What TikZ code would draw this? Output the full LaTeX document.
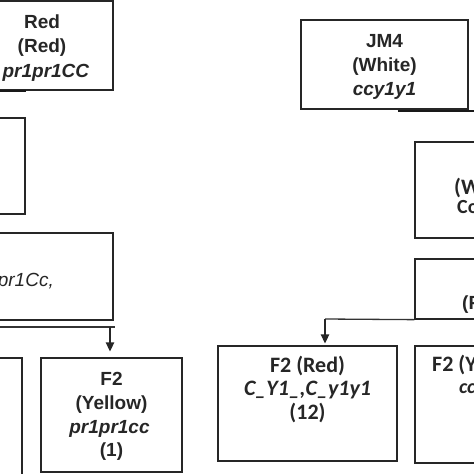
\documentclass[tikz,border=0pt]{standalone}
\usepackage{fontspec}
\setmainfont{Liberation Sans}
\newfontfamily\calfont{Carlito}
\usetikzlibrary{arrows.meta}
\begin{document}
\begin{tikzpicture}[x=1pt,y=-1pt,
  box/.style={draw=black!85, line width=1.3pt, rectangle, inner sep=0pt},
  conn/.style={draw=black!80, line width=1.3pt},
  thick conn/.style={draw=black!90, line width=2pt},
  arrowc/.style={draw=black!85, line width=1.3pt, -{Triangle[length=9pt,width=8.5pt]}},
  ariallbl/.style={align=center, inner sep=0pt, text=black!85, font=\bfseries\fontsize{19}{24.3}\selectfont},
  callbl/.style={align=center, inner sep=0pt, text=black!85, font=\calfont\bfseries\fontsize{22}{23.5}\selectfont},
  frag/.style={anchor=west, inner sep=0pt, text=black!85}
]
\useasboundingbox (0,0) rectangle (474,474);
\clip (0,0) rectangle (474,474);
\fill[white] (0,0) rectangle (474,474);

% boxes
\node[box, minimum width=142pt, minimum height=89pt] (A) at (42,45.5) {};
\node[box, minimum width=125pt, minimum height=96pt] (B) at (-37.5,166) {};
\node[box, minimum width=213pt, minimum height=87pt] (C) at (6.5,276.5) {};
\node[box, minimum width=122pt, minimum height=122pt] (D) at (-39,419) {};
\node[box, minimum width=141pt, minimum height=114pt] (E) at (111.5,415) {};
\node[box, minimum width=179pt, minimum height=115pt] (F) at (307.5,403.5) {};
\node[box, minimum width=145pt, minimum height=60pt] (G) at (487.5,289) {};
\node[box, minimum width=145pt, minimum height=117pt] (H) at (487.5,404.5) {};
\node[box, minimum width=167pt, minimum height=89pt] (I) at (384.5,64.5) {};
\node[box, minimum width=145pt, minimum height=96pt] (J) at (487.5,190) {};

% texts
\node[ariallbl] (At) at (42,48) {Red\\(Red)\\\hspace*{8pt}\textit{pr1pr1CC}};
\node[ariallbl] (It) at (384.5,67) {JM4\\(White)\\\textit{ccy1y1}};
\node[ariallbl, font=\bfseries\fontsize{19}{23.7}\selectfont] (Et) at (111.5,416.5) {F2\\(Yellow)\\\hspace*{-4pt}\textit{pr1pr1cc}\\(1)};
\node[callbl] (Ft) at (307.5,389) {F2 (Red)\\{\itshape C\_Y1\_,C\_y1y1}\\(12)};
\node[frag, anchor=east, font=\itshape\fontsize{19}{23}\selectfont] (Ct) at (54,282) {pr1Cc,};
\node[frag, font=\bfseries\fontsize{19}{23}\selectfont] (Gt) at (462,305) {(F};
\node[frag, font=\calfont\bfseries\fontsize{22}{23}\selectfont] (Ht1) at (432,365) {F2 (Y};
\node[frag, font=\calfont\bfseries\itshape\fontsize{20}{23}\selectfont] (Ht2) at (459,389) {cc};
\node[frag, font=\calfont\bfseries\fontsize{22}{23}\selectfont] (Jt1) at (454,188) {(W};
\node[frag, font=\calfont\bfseries\fontsize{20}{23}\selectfont] (Jt2) at (457,207) {Co};

% connectors
\coordinate (a1) at (-10,90.5);
\draw[thick conn] (a1) -- (B.east |- a1);
\coordinate (i2) at (480,110.5);
\draw[thick conn] (F.east |- i2) -- (i2);

\coordinate (c1) at (-10,327);
\coordinate (c2) at (115,327);
\coordinate (c3) at (110,327);
\draw[conn] (c1) -- (c2);
\draw[arrowc] (c3) -- ([yshift=6pt]c3 |- E.north);

\coordinate (g1) at (325,319);
\draw[conn] (G.south west) -- (g1);
\draw[arrowc] (g1) -- ([yshift=2pt]g1 |- F.north);
\end{tikzpicture}
\end{document}
